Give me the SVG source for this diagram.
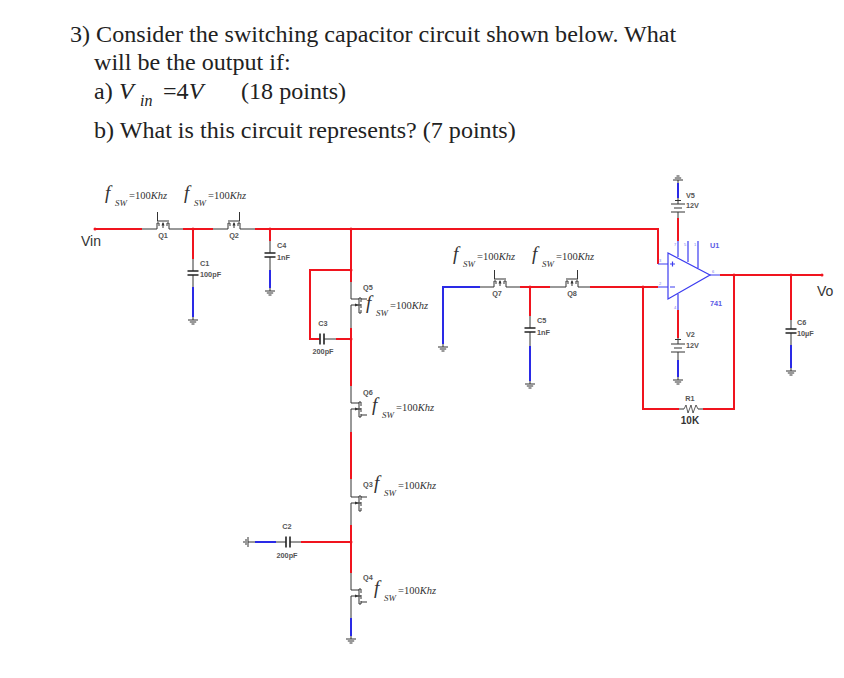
<svg xmlns="http://www.w3.org/2000/svg" width="844" height="678" viewBox="0 0 844 678">
<style>
.t{font-family:"Liberation Serif","Times New Roman",serif;font-size:24.1px;fill:#222}
.l{font-family:"Liberation Sans",Arial,sans-serif;font-size:7.300px;font-weight:bold;fill:#555}
.b{fill:#5a5ae6}
.v{font-family:"Liberation Sans",Arial,sans-serif;font-size:14px;fill:#333}
.f{font-family:"Liberation Serif",serif;font-style:italic;font-size:19px;fill:#333}
.s{font-family:"Liberation Serif",serif;font-style:italic;font-size:9px;fill:#333}
.h{font-family:"Liberation Serif",serif;font-size:10.500px;fill:#333}
.h tspan{font-style:italic}
.p{font-family:"Liberation Sans",Arial,sans-serif;font-size:4px;fill:#7a7af0}
.r,.u,.k,.o,.c{fill:none}
.r{stroke:#f0141e;stroke-width:2}
.u{stroke:#2a2ae6;stroke-width:2}
.k{stroke:#333;stroke-width:1}
.c{stroke:#222;stroke-width:1.600}
.o{stroke:#3c3cf0;stroke-width:1.200}
.d{fill:#f0141e}
</style>
<defs>
<g id="gnd" class="k"><path d="M0 0V3M-5 3H5M-3.200 5H3.200M-1.500 7H1.500"/></g>
<g id="qh"><path class="k" d="M-6 -8H6M-6 -6V0M6 -6V0M0 -6V-1M-4 -6V-3M4 -6V-3M-6 -6H-4M6 -6H4"/><path d="M0 -7 -1.500 -3.500H1.500Z" fill="#333"/></g>
<g id="qv"><path class="k" d="M0 0H8M0 6H8M8 -1V14M10 -1V3M10 5V9M10 11V14M8 -1H10M8 14H10M8 6H10"/><path d="M8 6 4 4.500V7.500Z" fill="#333"/></g>
<path id="capv" class="c" d="M-5.500 -2H5.500M-5.500 2H5.500"/>
<path id="caph" class="c" d="M-2 -5.500V5.500M2 -5.500V5.500"/>
<path id="batt" class="k" d="M-7 0H7M-4 4H4M-7 8H7"/>
<g id="freq"><text class="f" x="0" y="0">f</text><text class="s" x="10" y="7">SW</text><text class="h" x="24" y="0">=100<tspan>Khz</tspan></text></g>
</defs>
<g id="question">
<text class="t" x="70" y="42">3) Consider the switching capacitor circuit shown below. What</text>
<text class="t" x="94" y="70">will be the output if:</text>
<text class="t" x="94" y="99">a)</text><text class="t" x="119" y="99" font-style="italic">V</text><text class="t" x="140" y="106" style="font-style:italic;font-size:16px">in</text><text class="t" x="163" y="99">=4<tspan font-style="italic">V</tspan></text><text class="t" x="241" y="99">(18 points)</text>
<text class="t" x="94" y="138">b) What is this circuit represents? (7 points)</text>
</g>
<g id="connectors">
<path class="r" d="M95 229H142M183 229H213M255 229H658V264M193 229V259M270 229V241"/>
<path class="k" d="M142 229H157M169 229H183M213 229H228M240 229H255M193 259V271M193 275V287M270 241V253M270 257V270"/>
<path class="u" d="M193 287V317M270 270V288"/>
<path class="r" d="M351 229V282M351 270H310V339H319M336 339H351M351 328V386M351 432V479M351 525V573M301 542H351"/>
<path class="k" d="M351 282V299M351 305V328M351 386V403M351 409V432M351 479V497M351 503V525M351 573V590M351 596V618M319 339H320M324 339H336M276 542H286M290 542H301"/>
<path class="u" d="M351 618V636M255 542H276M443 344V287H480"/>
<path class="k" d="M480 287H494M506 287H520M550 287H566M578 287H590M530 316V328M530 332V346"/>
<path class="r" d="M520 287H550M530 287V316M590 287H658M643 287V409H679M703 409H734V275M720 275H822M791 275V320M678 218V241M678 310V338"/>
<path class="k" d="M791 320V329M791 333V345M678 338V344M678 352V360M678 201V204M678 212V218M679 409H684M698 409H703"/>
<path fill="none" stroke="#333" stroke-width="0.800" d="M684 409 686 405 688 413 691 405 693 413 696 405 698 409"/>
<path class="u" d="M530 346V381M791 345V368M678 360V377M678 183V198"/>
<path class="o" d="M658 264H668M658 287H668M710 275H720M678 241V257M688 241V262M698 241V268M678 294V310"/>
<circle class="d" cx="95" cy="229" r="1.500"/><circle class="d" cx="193" cy="229" r="1.500"/><circle class="d" cx="270" cy="229" r="1.500"/><circle class="d" cx="351" cy="229" r="1.500"/><circle class="d" cx="351" cy="270" r="1.500"/><circle class="d" cx="351" cy="339" r="1.500"/><circle class="d" cx="351" cy="542" r="1.500"/><circle class="d" cx="530" cy="287" r="1.500"/><circle class="d" cx="643" cy="287" r="1.500"/><circle class="d" cx="734" cy="275" r="1.500"/><circle class="d" cx="791" cy="275" r="1.500"/><circle class="d" cx="822" cy="275" r="1.500"/>
</g>
<g id="vin"><text class="v" x="81" y="246">Vin</text></g>
<g id="vo"><text class="v" x="817" y="296">Vo</text></g>
<g id="Q1"><use href="#qh" x="163" y="229"/><path class="k" d="M157.500 212V221"/><use href="#freq" x="105" y="199"/><text class="l" x="163" y="238" text-anchor="middle">Q1</text></g>
<g id="Q2"><use href="#qh" x="234" y="229"/><path class="k" d="M239.500 212V221"/><use href="#freq" x="184" y="199"/><text class="l" x="234" y="238" text-anchor="middle">Q2</text></g>
<g id="C1"><use href="#capv" x="193" y="273"/><use href="#gnd" x="193" y="317"/><text class="l" x="200" y="266">C1</text><text class="l" x="200" y="277">100pF</text></g>
<g id="C4"><use href="#capv" x="270" y="255"/><use href="#gnd" x="270" y="288"/><text class="l" x="277" y="248">C4</text><text class="l" x="277" y="260">1nF</text></g>
<g id="Q5"><use href="#qv" x="351" y="299"/><path class="k" d="M361 299H367"/><use href="#freq" x="366" y="309"/><text class="l" x="363" y="290">Q5</text></g>
<g id="C3"><use href="#caph" x="322" y="339"/><text class="l" x="323" y="326" text-anchor="middle">C3</text><text class="l" x="323" y="354" text-anchor="middle">200pF</text></g>
<g id="Q6"><use href="#qv" x="351" y="403"/><path class="k" d="M361 415H367"/><use href="#freq" x="372" y="411"/><text class="l" x="363" y="395">Q6</text></g>
<g id="Q3"><use href="#qv" x="351" y="497"/><path class="k" d="M361 497H367"/><use href="#freq" x="374" y="489"/><text class="l" x="363" y="487">Q3</text></g>
<g id="C2"><use href="#caph" x="288" y="542"/><path class="k" d="M255 542H248M248 537V547M246 539V545M244 541V543"/><text class="l" x="287" y="529" text-anchor="middle">C2</text><text class="l" x="287" y="558" text-anchor="middle">200pF</text></g>
<g id="Q4"><use href="#qv" x="351" y="590"/><path class="k" d="M361 602H367"/><use href="#freq" x="374" y="594"/><use href="#gnd" x="351" y="636"/><text class="l" x="363" y="580">Q4</text></g>
<g id="Q7"><use href="#qh" x="500" y="287"/><path class="k" d="M494.500 270V279"/><use href="#freq" x="453" y="260"/><use href="#gnd" x="443" y="344"/><text class="l" x="497" y="296" text-anchor="middle">Q7</text></g>
<g id="Q8"><use href="#qh" x="572" y="287"/><path class="k" d="M577.500 270V279"/><use href="#freq" x="532" y="260"/><text class="l" x="572" y="296" text-anchor="middle">Q8</text></g>
<g id="C5"><use href="#capv" x="530" y="330"/><use href="#gnd" x="530" y="381"/><text class="l" x="537" y="323">C5</text><text class="l" x="537" y="335">1nF</text></g>
<g id="U1"><path fill="none" stroke="#3c3cf0" stroke-width="1.200" d="M668 253V299L710 275Z"/><path class="o" d="M670 264H675M672.500 261.500V266.500M670 287H675"/><text class="p" x="674" y="246">7</text><text class="p" x="684" y="246">5</text><text class="p" x="694" y="246">1</text><text class="p" x="659" y="262">3</text><text class="p" x="659" y="285">2</text><text class="p" x="712" y="273">6</text><text class="p" x="674" y="309">4</text><text class="l b" x="710" y="248">U1</text><text class="l b" x="710" y="306">741</text></g>
<g id="V5"><use href="#batt" x="678" y="204"/><path class="k" d="M678 198V201M675 200.500H681"/><use href="#gnd" transform="translate(678 183) scale(1 -1)"/><text class="l" x="686" y="198">V5</text><text class="l" x="686" y="208">12V</text></g>
<g id="V2"><use href="#batt" x="678" y="344"/><path class="k" d="M675 339.500H681"/><use href="#gnd" x="678" y="377"/><text class="l" x="686" y="337">V2</text><text class="l" x="686" y="348">12V</text></g>
<g id="R1"><text class="l" x="690" y="401" text-anchor="middle">R1</text><text class="l" style="font-size:10px;fill:#333" x="690" y="424" text-anchor="middle">10K</text></g>
<g id="C6"><use href="#capv" x="791" y="331"/><use href="#gnd" x="791" y="368"/><text class="l" x="797" y="325">C6</text><text class="l" x="797" y="336">10µF</text></g>
</svg>
